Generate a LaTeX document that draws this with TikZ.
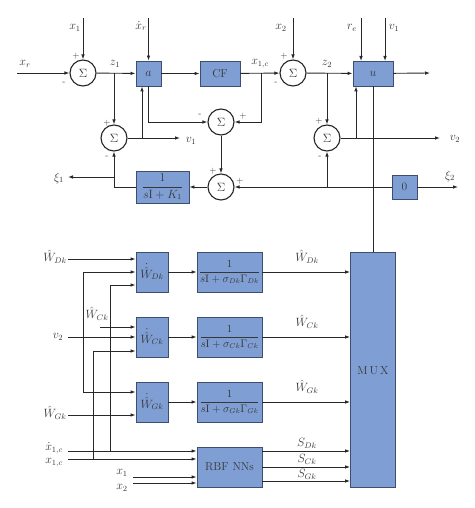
\documentclass[tikz,border=0pt]{standalone}
\usepackage{amsmath}
\usetikzlibrary{arrows.meta}
\definecolor{blk}{RGB}{127,159,212}
\definecolor{blkb}{RGB}{62,78,108}
\definecolor{ln}{RGB}{40,40,40}
\definecolor{tx}{RGB}{55,55,55}
\begin{document}
\begin{tikzpicture}[x=1pt,y=-1pt,
  font=\fontsize{11.5}{13}\selectfont, text=tx,
  arr/.style={draw=ln, line width=0.9pt, -{Latex[length=5pt,width=3.6pt]}},
  ln/.style={draw=ln, line width=0.9pt},
  blkbox/.style={draw=blkb, fill=blk, line width=0.9pt, inner sep=0pt, minimum width=#1},
  sumnode/.style={circle, draw=black!85, line width=1.1pt, fill=white, minimum size=26pt, inner sep=0pt},
  lbl/.style={inner sep=0pt},
  sgn/.style={inner sep=0pt, font=\fontsize{9}{10}\selectfont}]
\useasboundingbox (0,0) rectangle (474,508);
% sums
\node[sumnode] (s1) at (83,73) {$\Sigma$};
\node[sumnode] (s2) at (293,73) {$\Sigma$};
\node[sumnode] (s3) at (114,138) {$\Sigma$};
\node[sumnode] (s4) at (221,122) {$\Sigma$};
\node[sumnode] (s5) at (221,187) {$\Sigma$};
\node[sumnode] (s6) at (327,138) {$\Sigma$};
% top blocks
\node[blkbox=25pt, minimum height=25pt] (a) at (148.5,73.5) {$a$};
\node[blkbox=40pt, minimum height=25pt] (CF) at (220,73.5) {CF};
\node[blkbox=40pt, minimum height=25pt] (u) at (373,73.5) {$u$};
\node[blkbox=53pt, minimum height=32pt] (K) at (162.5,187) {$\dfrac{1}{s\mathrm{I}+K_1}$};
\node[blkbox=25pt, minimum height=24pt] (zero) at (404.5,187) {0};
% lower blocks
\node[blkbox=32pt, minimum height=40pt] (WD) at (152,272) {$\dot{\hat{W}}_{Dk}$};
\node[blkbox=32pt, minimum height=40pt] (WC) at (152,337) {$\dot{\hat{W}}_{Ck}$};
\node[blkbox=32pt, minimum height=40pt] (WG) at (152,402) {$\dot{\hat{W}}_{Gk}$};
\node[blkbox=65pt, minimum height=40pt, font=\fontsize{10.5}{12}\selectfont] (FD) at (229.5,272) {$\dfrac{1}{s\mathrm{I}+\sigma_{Dk}\Gamma_{Dk}}$};
\node[blkbox=65pt, minimum height=40pt, font=\fontsize{10.5}{12}\selectfont] (FC) at (229.5,337) {$\dfrac{1}{s\mathrm{I}+\sigma_{Ck}\Gamma_{Ck}}$};
\node[blkbox=65pt, minimum height=40pt, font=\fontsize{10.5}{12}\selectfont] (FG) at (229.5,402) {$\dfrac{1}{s\mathrm{I}+\sigma_{Gk}\Gamma_{Gk}}$};
\node[blkbox=65pt, minimum height=40pt] (RBF) at (229.5,467) {RBF NNs};
\node[blkbox=45pt, minimum height=235pt] (MUX) at (373,369.5) {};
\node[lbl] (muxl) at (373,371) {M\,U\,X};
% coordinates
\coordinate (xr0) at (17,73);
\coordinate (x10) at (83,18);
\coordinate (xrd0) at (148.5,18);
\coordinate (x20) at (293,18);
\coordinate (re0) at (361,18);
\coordinate (re1) at (361,61);
\coordinate (v10) at (385,18);
\coordinate (v11) at (385,61);
\coordinate (uout) at (430,73);
\coordinate (j1) at (142,138);
\coordinate (j2) at (261,73);
\coordinate (j3) at (114,177);
\coordinate (xi1) at (68,177);
\coordinate (v1e) at (180,138);
\coordinate (v2e) at (440,138);
\coordinate (j4) at (356,138);
\coordinate (xi2) at (458,187);
% top connectors
\draw[arr] (xr0) -- (s1);
\draw[arr] (x10) -- (s1);
\draw[arr] (s1) -- (a);
\draw[arr] (xrd0) -- (a);
\draw[arr] (a) -- (CF);
\draw[arr] (CF) -- (s2);
\draw[arr] (x20) -- (s2);
\draw[arr] (s2) -- (u);
\draw[arr] (re0) -- (re1);
\draw[arr] (v10) -- (v11);
\draw[arr] (u) -- (uout);
\draw[arr] (s3 |- s1) -- (s3);
\draw[arr] (s3) -- (v1e);
\draw[arr] (j1) -- (j1 |- a.south);
\draw[arr] (a.south) |- (s4.west);
\draw[arr] (j2) |- (s4.east);
\draw[arr] (s4) -- (s5);
\draw[arr] (s5) -- (K);
\draw[arr] (K.west) -| (s3.south);
\draw[arr] (j3) -- (xi1);
\draw[arr] (s6 |- s2) -- (s6);
\draw[arr] (s6) -- (v2e);
\draw[arr] (j4) -- (j4 |- u.south);
\draw[ln] (u.south) -- (MUX.north);
\draw[arr] (zero.west) -- (s5.east);
\draw[arr] (zero.east) -- (xi2);
\draw[arr] (s6 |- zero) -- (s6);
% top labels
\node[lbl] at (25,64) {$x_r$};
\node[lbl] at (75,28) {$x_1$};
\node[lbl] at (141,26) {$\dot{x}_r$};
\node[lbl] at (115,64) {$z_1$};
\node[lbl] at (260,64) {$x_{1,c}$};
\node[lbl] at (281,28) {$x_2$};
\node[lbl] at (327,64) {$z_2$};
\node[lbl] at (352,28) {$r_e$};
\node[lbl] at (394,28) {$v_1$};
\node[lbl] at (191,141) {$v_1$};
\node[lbl] at (455,139) {$v_2$};
\node[lbl] at (59,178) {$\xi_1$};
\node[lbl] at (450,176) {$\xi_2$};
% signs
\node[sgn] at (76,56) {+};
\node[sgn] at (64,83) {-};
\node[sgn] at (284,56) {+};
\node[sgn] at (276,83) {-};
\node[sgn] at (107,123) {+};
\node[sgn] at (107,157) {-};
\node[sgn] at (200,115) {-};
\node[sgn] at (243,116) {+};
\node[sgn] at (213,171) {+};
\node[sgn] at (240,181) {+};
\node[sgn] at (319,121) {+};
\node[sgn] at (320,157) {-};
% lower inputs
\coordinate (iWD) at (68,259);
\coordinate (iWC) at (100,327);
\coordinate (iv2) at (68,337);
\coordinate (iWG) at (68,415);
\coordinate (ixd) at (68,451);
\coordinate (ixc) at (68,459);
\coordinate (ix1) at (133,477);
\coordinate (ix2) at (133,483);
\coordinate (p1) at (83,272);
\coordinate (p2) at (83,392);
\coordinate (q1) at (110,285);
\coordinate (q2) at (110,451);
\coordinate (r1) at (93,351);
\coordinate (r2) at (93,459);
\draw[arr] (iWD) -- (iWD -| WD.west);
\draw[arr] (iWC) -- (iWC -| WC.west);
\draw[arr] (iv2) -- (iv2 -| WC.west);
\draw[arr] (iWG) -- (iWG -| WG.west);
\draw[arr] (ixd) -- (ixd -| RBF.west);
\draw[arr] (ixc) -- (ixc -| RBF.west);
\draw[arr] (ix1) -- (ix1 -| RBF.west);
\draw[arr] (ix2) -- (ix2 -| RBF.west);
\draw[arr] (p2) -- (p1) -- (p1 -| WD.west);
\draw[arr] (p2) -- (p2 -| WG.west);
\draw[arr] (q2) -- (q1) -- (q1 -| WD.west);
\draw[arr] (r2) -- (r1) -- (r1 -| WC.west);
\draw[arr] (WD) -- (FD);
\draw[arr] (WC) -- (FC);
\draw[arr] (WG) -- (FG);
\draw[arr] (FD) -- (FD -| MUX.west);
\draw[arr] (FC) -- (FC -| MUX.west);
\draw[arr] (FG) -- (FG -| MUX.west);
\coordinate (o1) at (262,451);
\coordinate (o2) at (262,467);
\coordinate (o3) at (262,481);
\draw[arr] (o1) -- (o1 -| MUX.west);
\draw[arr] (o2) -- (o2 -| MUX.west);
\draw[arr] (o3) -- (o3 -| MUX.west);
% lower labels
\node[lbl] at (55,257) {$\hat{W}_{Dk}$};
\node[lbl] at (97,314) {$\hat{W}_{Ck}$};
\node[lbl] at (58,337) {$v_2$};
\node[lbl] at (55,413) {$\hat{W}_{Gk}$};
\node[lbl] at (54,448) {$\dot{x}_{1,c}$};
\node[lbl] at (54,463) {$x_{1,c}$};
\node[lbl] at (122,473) {$x_1$};
\node[lbl] at (122,488) {$x_2$};
\node[lbl] at (307,257) {$\hat{W}_{Dk}$};
\node[lbl] at (307,322) {$\hat{W}_{Ck}$};
\node[lbl] at (307,387) {$\hat{W}_{Gk}$};
\node[lbl] at (307,443) {$S_{Dk}$};
\node[lbl] at (307,459) {$S_{Ck}$};
\node[lbl] at (307,474) {$S_{Gk}$};
\end{tikzpicture}
\end{document}
